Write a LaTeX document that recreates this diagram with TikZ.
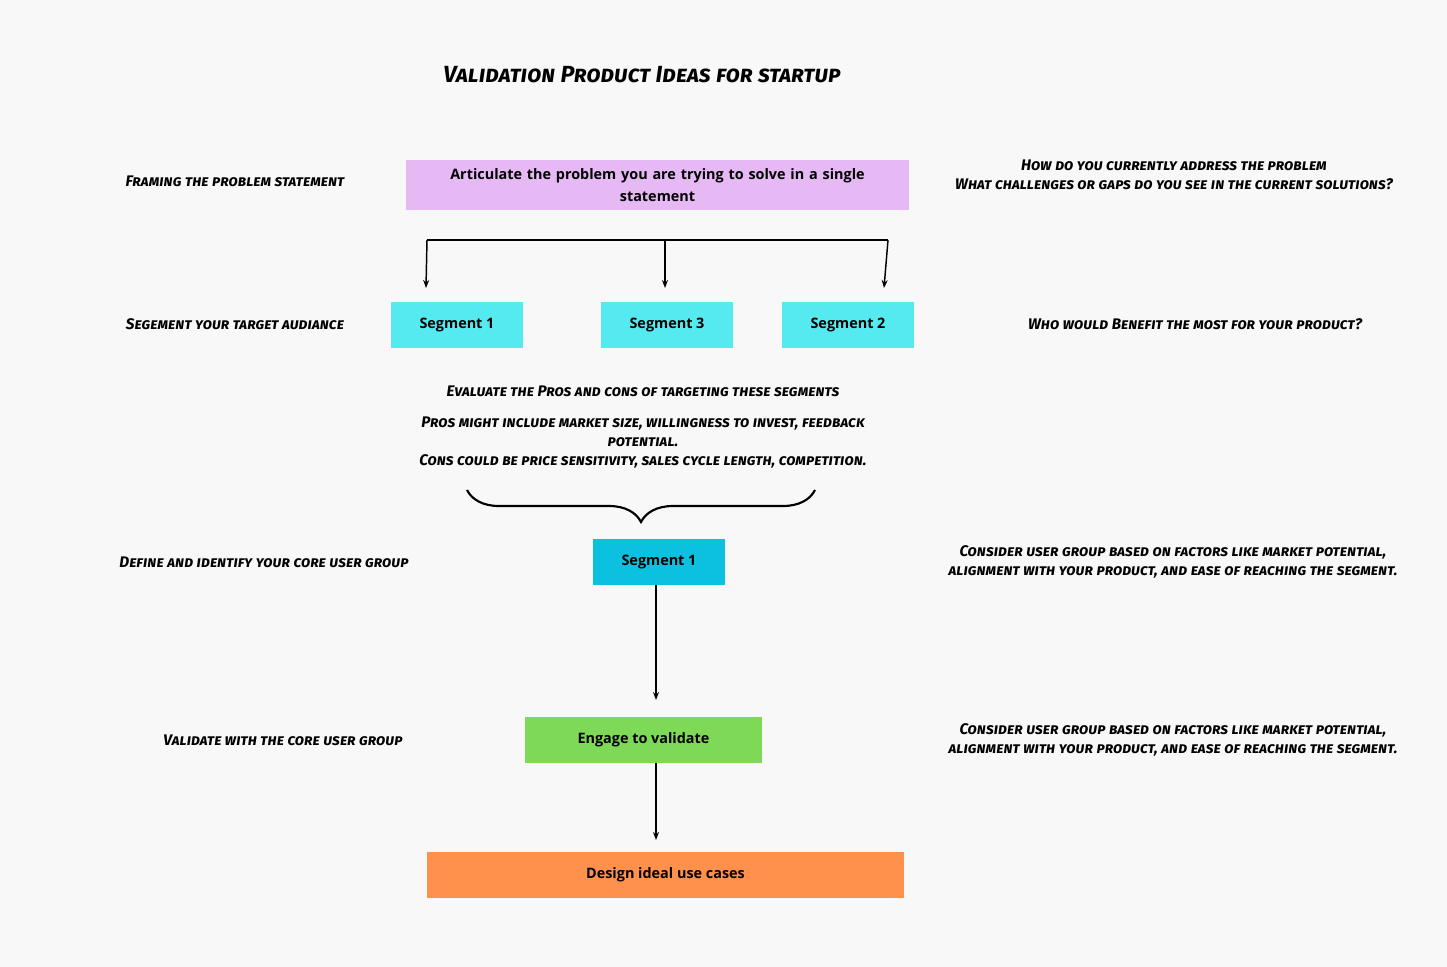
\documentclass[tikz,border=0pt]{standalone}
\usepackage{fontspec}
\setmainfont{Open Sans}
\newfontfamily\hand{Fira Sans}[Letters=SmallCaps]
\usetikzlibrary{decorations.pathreplacing,arrows.meta}
\definecolor{bg}{HTML}{F8F8F8}
\definecolor{cpurple}{HTML}{E6B8F4}
\definecolor{ccyan}{HTML}{55EAF0}
\definecolor{cblue}{HTML}{0CC0DF}
\definecolor{cgreen}{HTML}{7ED957}
\definecolor{corange}{HTML}{FF914D}
\begin{document}
\begin{tikzpicture}[x=0.75pt,y=-0.75pt,
 box/.style={draw=none,font=\bfseries\fontsize{10.8}{16.5}\selectfont,align=center,inner sep=0},
 note/.style={font=\hand\itshape\bfseries\fontsize{11.5}{14.5}\selectfont,align=center},
 arr/.style={-{Stealth[length=6pt]},line width=1.1pt}]
\fill[bg] (0,0) rectangle (1447,967);
\useasboundingbox (0,0) rectangle (1447,967);
\node[font=\hand\itshape\bfseries\fontsize{17.5}{20}\selectfont] (title) at (642,75) {Validation Product Ideas for startup};
\node[box,fill=cpurple,minimum width=503*0.75pt,minimum height=50*0.75pt,text width=360pt] (prob) at (657.5,185) {Articulate the problem you are trying to solve in a single\\statement};
\node[box,fill=ccyan,minimum width=99pt,minimum height=35pt] (s1) at (457,325) {Segment 1};
\node[box,fill=ccyan,minimum width=99pt,minimum height=35pt] (s3) at (667,325) {Segment 3};
\node[box,fill=ccyan,minimum width=99pt,minimum height=35pt] (s2) at (848,325) {Segment 2};
\coordinate (bl) at (427,240); \coordinate (br) at (888,240);
\draw[line width=1.3pt] (bl) -- (br);
\coordinate (a1) at (426,288); \coordinate (a2) at (665,288); \coordinate (a3) at (884,288);
\coordinate (t2) at (665,240);\coordinate (t3) at (888,240);
\draw[arr] (bl) -- (a1);
\draw[arr] (t2) -- (a2);
\draw[arr] (t3) -- (a3);
\node[note] (ev) at (643,391) {Evaluate the Pros and cons of targeting these segments};
\node[note] (pros) at (643,432) {Pros might include market size, willingness to invest, feedback\\potential.};
\node[note] (cons) at (643,461) {Cons could be price sensitivity, sales cycle length, competition.};
\coordinate (brL) at (467,490); \coordinate (brR) at (815,490);
\draw[line width=1.6pt,decorate,decoration={brace,mirror,amplitude=24pt,aspect=0.5}] (brL) -- (brR);
\node[box,fill=cblue,minimum width=99pt,minimum height=35pt] (core) at (659,562) {Segment 1};
\node[box,fill=cgreen,minimum width=178pt,minimum height=35pt] (eng) at (643.5,740) {Engage to validate};
\node[box,fill=corange,minimum width=358pt,minimum height=35pt] (des) at (665.5,875) {Design ideal use cases};
\coordinate (e1) at (656,700); \coordinate (e2) at (656,840);
\draw[arr] (656,585) -- (e1);
\draw[arr] (656,763) -- (e2);
\node[note] (l1) at (235,181) {Framing the problem statement};
\node[note] (l2) at (235,324) {Segement your target audiance};
\node[note] (l3) at (264,562) {Define and identify your core user group};
\node[note] (l4) at (283,740) {Validate with the core user group};
\node[note] (r1) at (1174,175) {How do you currently address the problem\\What challenges or gaps do you see in the current solutions?};
\node[note] (r2) at (1195,324) {Who would Benefit the most for your product?};
\node[note] (r3) at (1173,562) {Consider user group based on factors like market potential,\\alignment with your product, and ease of reaching the segment.};
\node[note] (r4) at (1173,740) {Consider user group based on factors like market potential,\\alignment with your product, and ease of reaching the segment.};
\end{tikzpicture}
\end{document}
